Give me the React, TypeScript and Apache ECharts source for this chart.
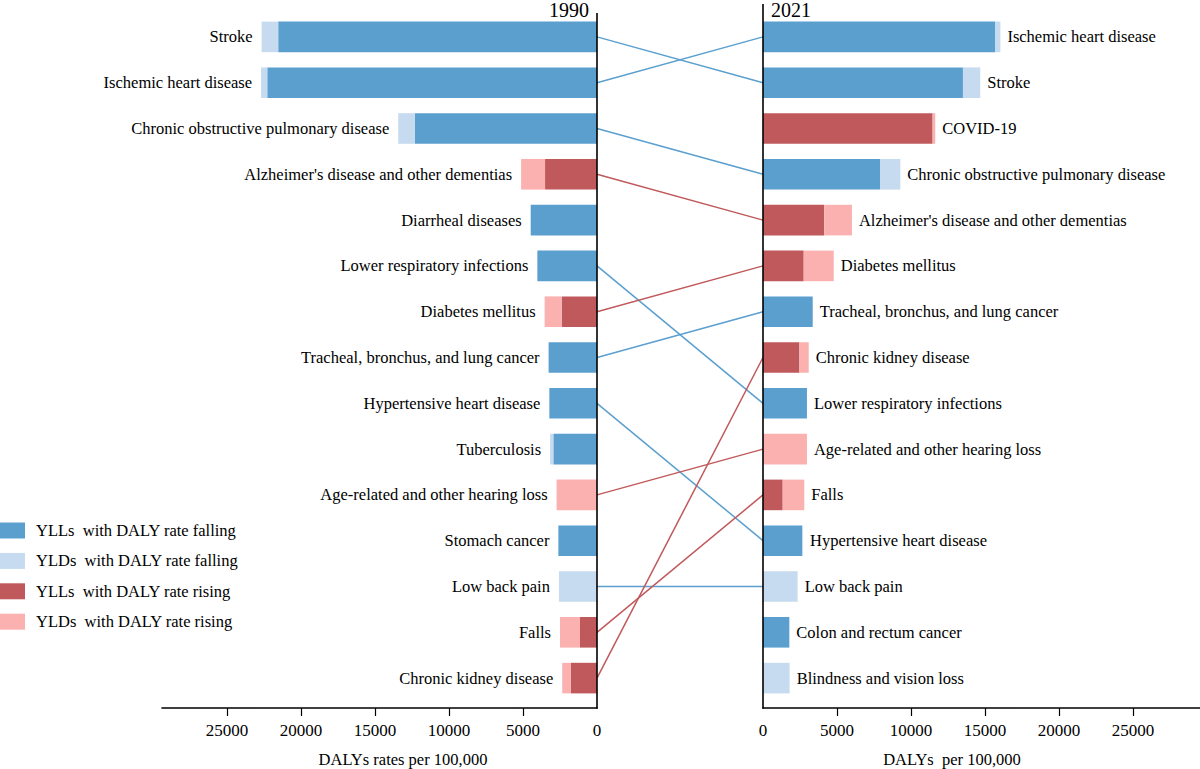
import React, { useEffect, useRef } from "react";
import * as echarts from "echarts";

const cats1990 = [
  "Stroke",
  "Ischemic heart disease",
  "Chronic obstructive pulmonary disease",
  "Alzheimer's disease and other dementias",
  "Diarrheal diseases",
  "Lower respiratory infections",
  "Diabetes mellitus",
  "Tracheal, bronchus, and lung cancer",
  "Hypertensive heart disease",
  "Tuberculosis",
  "Age-related and other hearing loss",
  "Stomach cancer",
  "Low back pain",
  "Falls",
  "Chronic kidney disease",
];
const yll1990 = [21540, 22280, 12300, 3510, 4480, 4030, 2390, 3270, 3220, 2950, 0, 2610, 0, 1150, 1760];
const yld1990 = [1120, 420, 1130, 1620, 0, 0, 1150, 0, 0, 220, 2730, 0, 2570, 1350, 590];
const rising1990 = [0, 0, 0, 1, 0, 0, 1, 0, 0, 0, 1, 0, 0, 1, 1];

const cats2021 = [
  "Ischemic heart disease",
  "Stroke",
  "COVID-19",
  "Chronic obstructive pulmonary disease",
  "Alzheimer's disease and other dementias",
  "Diabetes mellitus",
  "Tracheal, bronchus, and lung cancer",
  "Chronic kidney disease",
  "Lower respiratory infections",
  "Age-related and other hearing loss",
  "Falls",
  "Hypertensive heart disease",
  "Low back pain",
  "Colon and rectum cancer",
  "Blindness and vision loss",
];
const yll2021 = [15700, 13510, 11460, 7930, 4140, 2750, 3360, 2460, 2970, 0, 1330, 2640, 0, 1780, 0];
const yld2021 = [340, 1170, 180, 1350, 1870, 2030, 0, 630, 0, 2970, 1460, 70, 2340, 0, 1800];
const rising2021 = [0, 0, 1, 0, 1, 1, 0, 1, 0, 1, 1, 0, 0, 0, 0];

const xTickLabels = [0, 5000, 10000, 15000, 20000, 25000];
const xTickMarks = [5000, 10000, 15000, 20000, 25000];

const legendNames = [
  "YLLs  with DALY rate falling",
  "YLDs  with DALY rate falling",
  "YLLs  with DALY rate rising",
  "YLDs  with DALY rate rising",
];

const C_BLUE = "#5b9fcf";
const C_LBLUE = "#c6dbef";
const C_RED = "#c0595b";
const C_PINK = "#fcb1b1";
const FONT = "Liberation Serif";

export default function App() {
  const ref = useRef<HTMLDivElement>(null);
  useEffect(() => {
    document.body.style.margin = "0";
    if (!ref.current) return;
    const chart = echarts.init(ref.current, undefined, { renderer: "svg" });

    const BW = 30.6;
    const sideSeries = (
      idx: number,
      yll: number[],
      yld: number[],
      rising: number[],
      labelPos: string,
      labelDist: number
    ) => {
      const pick = (vals: number[], want: number) =>
        vals.map((v, i) => (rising[i] === want && v > 0 ? v : null));
      const base = {
        type: "bar",
        xAxisIndex: idx,
        yAxisIndex: idx,
        stack: "s" + idx,
        barWidth: BW,
        barGap: "-100%",
        silent: true,
      };
      return [
        { ...base, name: legendNames[0], data: pick(yll, 0), itemStyle: { color: C_BLUE } },
        { ...base, name: legendNames[2], data: pick(yll, 1), itemStyle: { color: C_RED } },
        { ...base, name: legendNames[1], data: pick(yld, 0), itemStyle: { color: C_LBLUE } },
        { ...base, name: legendNames[3], data: pick(yld, 1), itemStyle: { color: C_PINK } },
        {
          type: "bar",
          name: "labels" + idx,
          xAxisIndex: idx,
          yAxisIndex: idx,
          barWidth: BW,
          barGap: "-100%",
          silent: true,
          data: yll.map((v, i) => v + yld[i]),
          itemStyle: { color: "rgba(0,0,0,0)" },
          label: {
            show: true,
            position: labelPos,
            distance: labelDist,
            formatter: "{b}",
            fontFamily: FONT,
            fontSize: 16.5,
            color: "#000",
          },
        },
      ];
    };

    const lineSeries: any[] = [];
    cats1990.forEach((c, i) => {
      const j = cats2021.indexOf(c);
      if (j < 0) return;
      lineSeries.push({
        type: "line",
        xAxisIndex: 2,
        yAxisIndex: 2,
        symbol: "none",
        silent: true,
        data: [
          [0, i],
          [1, j],
        ],
        lineStyle: { color: rising1990[i] ? C_RED : C_BLUE, width: 1.5 },
      });
    });

    const xAxisCommon = {
      type: "value",
      min: 0,
      interval: 5000,
      offset: 7,
      splitLine: { show: false },
      axisLine: { show: true, lineStyle: { color: "#000", width: 1.6 } },
      axisTick: {
        show: true,
        length: 8,
        customValues: xTickMarks,
        lineStyle: { color: "#000", width: 1.2 },
      },
      axisLabel: {
        fontFamily: FONT,
        fontSize: 17,
        color: "#000",
        margin: 14,
        customValues: xTickLabels,
        formatter: (v: number) => String(v),
      },
    };

    const yAxisCommon = {
      type: "category",
      inverse: true,
      axisTick: { show: false },
      axisLabel: { show: false },
      axisLine: { show: false },
    };

    const option: any = {
      animation: false,
      grid: [
        { left: 162, top: 14, width: 435, height: 687 },
        { left: 763, top: 14, width: 437, height: 687 },
        { left: 597, top: 14, width: 166, height: 687 },
      ],
      xAxis: [
        { ...xAxisCommon, gridIndex: 0, inverse: true, max: 29393 },
        { ...xAxisCommon, gridIndex: 1, max: 29528 },
        { type: "value", gridIndex: 2, min: 0, max: 1, show: false },
      ],
      yAxis: [
        { ...yAxisCommon, gridIndex: 0, position: "right", data: cats1990 },
        { ...yAxisCommon, gridIndex: 1, position: "left", data: cats2021 },
        { type: "category", gridIndex: 2, inverse: true, show: false, data: cats1990.map((_, i) => String(i)) },
      ],
      legend: {
        data: legendNames,
        orient: "vertical",
        left: 0,
        top: 522,
        padding: 0,
        itemWidth: 25,
        itemHeight: 16,
        itemGap: 13.4,
        icon: "rect",
        selectedMode: false,
        textStyle: {
          fontFamily: FONT,
          fontSize: 16.5,
          color: "#000",
          lineHeight: 16,
          padding: [0, 0, 0, 6],
        },
      },
      graphic: [
        {
          type: "text",
          x: 589,
          y: 10,
          style: { text: "1990", fontFamily: FONT, fontSize: 20, fill: "#000", align: "right", verticalAlign: "middle" },
        },
        {
          type: "text",
          x: 771,
          y: 10,
          style: { text: "2021", fontFamily: FONT, fontSize: 20, fill: "#000", align: "left", verticalAlign: "middle" },
        },
        {
          type: "text",
          x: 403,
          y: 759,
          style: { text: "DALYs rates per 100,000", fontFamily: FONT, fontSize: 16.5, fill: "#000", align: "center", verticalAlign: "middle" },
        },
        {
          type: "text",
          x: 952,
          y: 759,
          style: { text: "DALYs  per 100,000", fontFamily: FONT, fontSize: 16.5, fill: "#000", align: "center", verticalAlign: "middle" },
        },
        { type: "line", z: 10, shape: { x1: 597, y1: 13, x2: 597, y2: 708.8 }, style: { stroke: "#000", lineWidth: 1.6 } },
        { type: "line", z: 10, shape: { x1: 763, y1: 4, x2: 763, y2: 708.8 }, style: { stroke: "#000", lineWidth: 1.6 } },
      ],
      series: [
        ...sideSeries(0, yll1990, yld1990, rising1990, "left", 9),
        ...sideSeries(1, yll2021, yld2021, rising2021, "right", 7),
        ...lineSeries,
      ],
    };

    chart.setOption(option);
    return () => chart.dispose();
  }, []);

  return <div ref={ref} style={{ width: 1200, height: 769 }} />;
}
